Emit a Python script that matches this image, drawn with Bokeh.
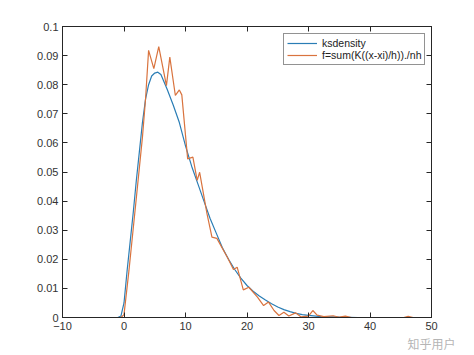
from bokeh.plotting import figure
from bokeh.models import Range1d, FixedTicker, LinearAxis, Legend, LegendItem, Title
from bokeh.embed import file_html
from bokeh.resources import INLINE

# ---- data ----
ks_x = [-1.0, -0.5, 0.0, 0.5, 1.0, 1.5, 2.0, 2.5, 3.0, 3.5, 4.0, 4.5, 5.0, 5.5, 6.0, 6.5,
        7.0, 8.0, 9.0, 10.0, 11.0, 12.0, 13.0, 14.0, 15.0, 16.0, 17.0, 18.0, 19.0, 20.0,
        21.0, 22.0, 23.0, 24.0, 25.0, 26.0, 27.0, 28.0, 29.0, 30.0, 32.0, 35.0, 38.0]
ks_y = [0.0, 0.0005, 0.005, 0.016, 0.026, 0.036, 0.047, 0.057, 0.067, 0.075, 0.080, 0.083,
        0.0840, 0.0843, 0.0835, 0.081, 0.0785, 0.073, 0.067, 0.059, 0.052, 0.046, 0.040,
        0.034, 0.029, 0.024, 0.020, 0.0165, 0.0135, 0.011, 0.0090, 0.0074, 0.0060, 0.0047,
        0.0036, 0.0027, 0.0020, 0.0014, 0.0010, 0.0007, 0.0003, 0.0001, 0.0]

f_x = [-0.5, 0.0, 0.8, 2.0, 3.0, 3.5, 4.0, 4.85, 5.65, 6.9, 7.45, 8.35, 9.0, 9.4, 10.35,
       11.2, 11.9, 12.3, 13.5, 14.3, 15.1, 16.8, 17.8, 18.4, 19.4, 20.3, 21.7, 22.7, 23.5,
       24.4, 25.2, 26.0, 26.8, 27.9, 28.8, 30.0, 30.7, 31.4, 32.5, 34.0, 35.0, 36.0, 37.0,
       40.0, 45.5, 46.2, 47.0]
f_y = [0.0, 0.001, 0.016, 0.041, 0.062, 0.075, 0.0918, 0.0855, 0.0931, 0.0797, 0.0895,
       0.0763, 0.0782, 0.0765, 0.0545, 0.0551, 0.0471, 0.0499, 0.0356, 0.0276, 0.0272,
       0.0207, 0.0165, 0.0173, 0.0095, 0.0104, 0.0070, 0.0041, 0.0053, 0.0024, 0.0007,
       0.0018, 0.0005, 0.0016, 0.0002, 0.0005, 0.0024, 0.0008, 0.0003, 0.0006, 0.0001,
       0.0005, 0.0, 0.0, 0.0, 0.0004, 0.0]

x_ticks = [-10, 0, 10, 20, 30, 40, 50]
y_ticks = [0, 0.01, 0.02, 0.03, 0.04, 0.05, 0.06, 0.07, 0.08, 0.09, 0.1]
y_tick_labels = ["0", "0.01", "0.02", "0.03", "0.04", "0.05", "0.06", "0.07", "0.08", "0.09", "0.1"]
legend_labels = ["ksdensity", "f=sum(K((x-xi)/h))./nh"]
watermark = "知乎用户"

# ---- figure ----
AX = "#262626"
FONT = "Liberation Sans"

p = figure(width=474, height=355, output_backend="svg", toolbar_location=None,
           x_range=Range1d(-10, 50), y_range=Range1d(0, 0.1),
           x_axis_location=None, y_axis_location=None,
           min_border_left=62, min_border_right=43, min_border_top=26, min_border_bottom=38)
p.background_fill_color = "white"
p.border_fill_color = "white"
p.xgrid.visible = False
p.ygrid.visible = False
p.outline_line_color = AX
p.outline_line_width = 1


def labelled_axis(ticks):
    ax = LinearAxis(ticker=FixedTicker(ticks=ticks))
    ax.major_tick_in = 5
    ax.major_tick_out = 0
    ax.minor_tick_line_color = None
    ax.axis_line_color = AX
    ax.major_tick_line_color = AX
    ax.major_label_text_font = FONT
    ax.major_label_text_font_size = "11px"
    ax.major_label_text_color = "#333333"
    ax.major_label_standoff = 4
    return ax


def tick_only_axis(ticks):
    # no major ticks (so no labels); the marks are drawn as minor ticks
    ax = LinearAxis(ticker=FixedTicker(ticks=[], minor_ticks=ticks))
    ax.major_tick_line_color = None
    ax.minor_tick_in = 5
    ax.minor_tick_out = 0
    ax.minor_tick_line_color = AX
    ax.axis_line_color = AX
    return ax


p.add_layout(labelled_axis(x_ticks), "below")
p.add_layout(tick_only_axis(x_ticks), "above")
yl = labelled_axis(y_ticks)
yl.major_label_overrides = {t: s for t, s in zip(y_ticks, y_tick_labels)}
p.add_layout(yl, "left")
p.add_layout(tick_only_axis(y_ticks), "right")

r_ks = p.line(ks_x, ks_y, line_color="#2a7db5", line_width=1.2)
r_f = p.line(f_x, f_y, line_color="#d9733e", line_width=1.2)

legend = Legend(items=[LegendItem(label=legend_labels[0], renderers=[r_ks]),
                       LegendItem(label=legend_labels[1], renderers=[r_f])],
                location=(221, 252))
legend.label_text_font = FONT
legend.label_text_font_size = "10.5px"
legend.label_text_color = "#222222"
legend.glyph_width = 30
legend.glyph_height = 10
legend.label_height = 10
legend.label_standoff = 5
legend.spacing = 0
legend.padding = 3
legend.margin = 0
legend.border_line_color = AX
legend.border_line_width = 1
legend.background_fill_color = "white"
p.add_layout(legend, "center")

wm = Title(text=watermark, align="right", text_font="Noto Sans CJK SC",
           text_font_size="12px", text_font_style="normal", text_color="#b5b5b5",
           standoff=0, offset=-24)
p.add_layout(wm, "below")

open("out.html", "w").write(file_html(p, INLINE))
